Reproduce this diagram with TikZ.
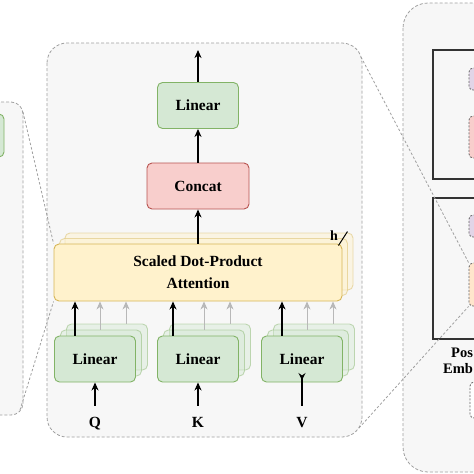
\documentclass[tikz,border=0pt]{standalone}
\usepackage{fontspec}
\setmainfont{Liberation Serif}
\usetikzlibrary{arrows.meta}
\definecolor{gfill}{HTML}{D5E8D4}
\definecolor{gdraw}{HTML}{82B366}
\definecolor{rfill}{HTML}{F8CECC}
\definecolor{rdraw}{HTML}{B85450}
\definecolor{yfill}{HTML}{FFF2CC}
\definecolor{ydraw}{HTML}{D6B656}
\definecolor{pfill}{HTML}{E1D5E7}
\definecolor{ofill}{HTML}{FFE6CC}
\definecolor{panelfill}{HTML}{F7F7F7}
\definecolor{dashc}{HTML}{A0A0A0}
\definecolor{garrc}{HTML}{B8B8B8}
\begin{document}
\begin{tikzpicture}[x=1pt,y=-1pt,
  font=\bfseries\fontsize{15.5}{22}\selectfont,
  box/.style={rounded corners=5pt, line width=0.9pt, inner sep=0pt, align=center},
  gbox/.style={box, fill=gfill, draw=gdraw, minimum width=81pt, minimum height=46pt},
  gback/.style={gbox, opacity=0.45},
  rbox/.style={box, fill=rfill, draw=rdraw, minimum width=102pt, minimum height=46pt},
  ybox/.style={box, fill=yfill, draw=ydraw, minimum width=288pt, minimum height=57pt},
  yback/.style={ybox, opacity=0.45},
  panel/.style={draw=dashc, dash pattern=on 3pt off 2pt, line width=0.8pt, fill=panelfill},
  zline/.style={draw=dashc, dash pattern=on 2.5pt off 2pt, line width=0.8pt},
  sbox/.style={rounded corners=4pt, dash pattern=on 2pt off 1.5pt, draw=black!60, line width=0.8pt, inner sep=0pt},
  frame/.style={draw=black!80, line width=1.3pt},
  arr/.style={line width=1.2pt, -{Stealth[length=8pt,width=7pt,inset=2.5pt]}},
  varr/.style={line width=1.2pt, -{Stealth[length=7pt,width=7pt,inset=2.5pt,reversed]}},
  garr/.style={line width=1pt, draw=garrc, -{Stealth[length=8pt,width=7pt,inset=2.5pt]}},
  lbl/.style={anchor=base, inner xsep=2pt, inner ysep=11pt},
  txt/.style={anchor=base west, inner sep=0pt, font=\bfseries\fontsize{14.5}{17}\selectfont}
]
\useasboundingbox (0,0) rectangle (474,474);
\fill[white] (0,0) rectangle (474,474);
\clip (0,0) rectangle (474,474);

% panels
\draw[panel, rounded corners=12pt] (-60,102) rectangle (23,415);
\node[gbox, minimum width=50pt, minimum height=43pt] (lg) at (-21,135.5) {};
\draw[panel, rounded corners=20pt] (47,43) rectangle (362,437);
\draw[panel, rounded corners=25pt] (403,3) rectangle (560,472);

% right panel content
\draw[frame] (433,50) rectangle (540,179);
\draw[frame] (433,198) rectangle (540,339);
\node[sbox, fill=pfill, minimum width=42pt, minimum height=22pt] (p1) at (490,79) {};
\node[sbox, fill=rfill, minimum width=42pt, minimum height=42pt] (r1) at (490,137) {};
\node[sbox, fill=pfill, minimum width=42pt, minimum height=22pt] (p2) at (490,226) {};
\node[sbox, fill=ofill, minimum width=42pt, minimum height=43pt] (mha) at (490,284.5) {};
\node[sbox, fill=white, minimum width=42pt, minimum height=36pt] (gn) at (491,400) {};
\node[txt] (pos) at (451,357) {Pos};
\node[txt] (emb) at (443,373) {Emb};

% zoom lines
\coordinate (ltr) at (23,112);
\coordinate (lbr) at (20,410);
\coordinate (mtr) at (361,57);
\coordinate (mbr) at (359,428);

% main panel nodes
\node[yback] (sdpab2) at (209,261.5) {};
\node[yback] (sdpab1) at (203.5,267) {};
\node[ybox] (sdpa) at (198,272.5) {Scaled Dot-Product\\Attention};

\node[gback] (lin1b2) at (107,347) {};
\node[gback] (lin1b1) at (101,353) {};
\node[gbox] (lin1) at (95,359) {Linear};
\node[gback] (lin2b2) at (210,347) {};
\node[gback] (lin2b1) at (204,353) {};
\node[gbox] (lin2) at (198,359) {Linear};
\node[gback] (lin3b2) at (314,347) {};
\node[gback] (lin3b1) at (308,353) {};
\node[gbox] (lin3) at (302,359) {Linear};

\node[rbox] (concat) at (198,186) {Concat};
\node[gbox] (lin4) at (198,105.5) {Linear};
\coordinate (out) at (198,50);

\node[lbl] (q) at (95,427) {Q};
\node[lbl] (k) at (198,427) {K};
\node[lbl] (v) at (302,427) {V};
\coordinate (vtip) at (302,373);

\node[inner sep=0pt, font=\bfseries\fontsize{14}{14}\selectfont] (h) at (334,236) {h};
\draw[line width=1pt] ([xshift=-4pt,yshift=-2pt]sdpa.north east) -- ++(9,-14);

\draw[zline] (ltr) -- (sdpa.north west);
\draw[zline] (lbr) -- (sdpa.south west);
\draw[zline] (mtr) -- (mha.north west);
\draw[zline] (mbr) -- (mha.south west);

% arrows
\draw[arr] (lin4.north) -- (out);
\draw[arr] (concat.north) -- (lin4.south);
\draw[arr] (sdpa.north) -- (concat.south);

\draw[arr] ([xshift=-20pt]lin1.north) -- ([xshift=-20pt]lin1.north |- sdpa.south);
\draw[garr] ([xshift=5pt,yshift=6pt]lin1.north) -- ([xshift=5pt]lin1.north |- sdpa.south);
\draw[garr] ([xshift=31pt,yshift=12pt]lin1.north) -- ([xshift=31pt]lin1.north |- sdpa.south);
\draw[arr] ([xshift=-25pt]lin2.north) -- ([xshift=-25pt]lin2.north |- sdpa.south);
\draw[garr] ([xshift=6pt,yshift=6pt]lin2.north) -- ([xshift=6pt]lin2.north |- sdpa.south);
\draw[garr] ([xshift=32pt,yshift=12pt]lin2.north) -- ([xshift=32pt]lin2.north |- sdpa.south);
\draw[arr] ([xshift=-20pt]lin3.north) -- ([xshift=-20pt]lin3.north |- sdpa.south);
\draw[garr] ([xshift=5pt,yshift=6pt]lin3.north) -- ([xshift=5pt]lin3.north |- sdpa.south);
\draw[garr] ([xshift=31pt,yshift=12pt]lin3.north) -- ([xshift=31pt]lin3.north |- sdpa.south);

\draw[arr] (q.north) -- (lin1.south);
\draw[arr] (k.north) -- (lin2.south);
\draw[varr] (v.north) -- (vtip);
\end{tikzpicture}
\end{document}
